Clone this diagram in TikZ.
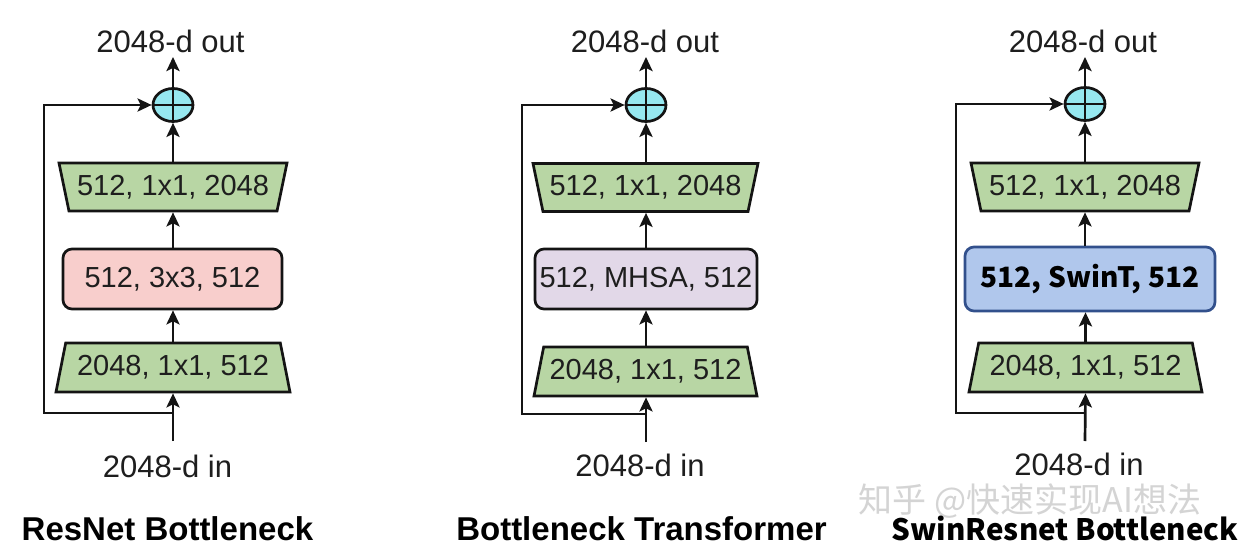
\documentclass[tikz,border=0pt]{standalone}
\usepackage{fontspec}
\setmainfont{Liberation Sans}
\newfontfamily\cjkfont{Noto Sans CJK SC}
\usetikzlibrary{shapes.geometric,arrows.meta}
\definecolor{linec}{RGB}{20,20,20}
\definecolor{txtc}{RGB}{30,30,30}
\definecolor{trapgreen}{RGB}{184,214,164}
\definecolor{pinkfill}{RGB}{248,206,204}
\definecolor{lavfill}{RGB}{226,216,232}
\definecolor{bluefill}{RGB}{176,199,236}
\definecolor{blueline}{RGB}{50,80,140}
\definecolor{cyanfill}{RGB}{150,232,240}
\definecolor{wmark}{RGB}{212,212,212}
\tikzset{
  ln/.style={line width=2.7pt, draw=linec},
  arr/.style={ln, -{Stealth[length=14pt,width=13pt,inset=3pt]}},
  blocktxt/.style={font=\fontsize{29pt}{34pt}\selectfont, text=txtc},
  trapwide/.style={trapezium, trapezium left angle=68, trapezium right angle=68,
    trapezium stretches body, draw=linec, line width=2.7pt, fill=trapgreen,
    inner sep=0pt, minimum height=49pt, blocktxt},
  trapnarrow/.style={trapezium, trapezium left angle=112.6, trapezium right angle=112.6,
    trapezium stretches body, draw=linec, line width=2.7pt, fill=trapgreen,
    inner sep=0pt, minimum height=48pt, blocktxt},
  roundbox/.style={rectangle, rounded corners=9pt, draw=linec, line width=2.7pt,
    inner sep=0pt, minimum height=60pt, blocktxt},
  addnode/.style={ellipse, draw=linec, line width=2.7pt, fill=cyanfill,
    minimum width=40pt, minimum height=33pt, inner sep=0pt,
    path picture={\draw[line width=2.5pt, draw=linec]
      (path picture bounding box.north) -- (path picture bounding box.south)
      (path picture bounding box.west) -- (path picture bounding box.east);}},
  iolabel/.style={font=\fontsize{31pt}{36pt}\selectfont, text=txtc, anchor=base, inner sep=0pt},
  titlelabel/.style={font=\fontsize{33pt}{38pt}\selectfont\bfseries, text=black, anchor=base, inner sep=0pt},
}
\begin{document}
\begin{tikzpicture}[x=1pt,y=-1pt]
\useasboundingbox (0,0) rectangle (1248,551);
\fill[white] (0,0) rectangle (1248,551);

% ---------------- Column 1: ResNet Bottleneck ----------------
\node[iolabel] (out1) at (170.5,53) {2048-d out};
\node[addnode] (add1) at (173,105) {};
\node[trapnarrow, minimum width=228pt] (ta1) at (173,187) {\makebox[0pt]{512, 1x1, 2048}};
\node[roundbox, fill=pinkfill, minimum width=219pt] (mid1) at (172.5,279) {512, 3x3, 512};
\node[trapwide, minimum width=234pt] (tb1) at (173,367.5) {\makebox[0pt]{2048, 1x1, 512}};
\coordinate (top1) at (173,57);
\coordinate (src1) at (173,441);
\coordinate (sp1) at (173,413);
\coordinate (sk1) at (44,413);
\node[iolabel] (in1) at (167.5,477) {2048-d in};
\node[titlelabel] (title1) at (167.5,540) {ResNet Bottleneck};

\draw[arr] (add1.north) -- (top1);
\draw[arr] (ta1.north) -- (add1.south);
\draw[arr] (mid1.north -| ta1.south) -- (ta1.south);
\draw[arr] (tb1.north) -- (mid1.south -| tb1.north);
\draw[arr] (src1) -- (tb1.south);
\draw[arr] (sp1) -- (sk1) |- (add1.west);

% ---------------- Column 2: Bottleneck Transformer ----------------
\node[iolabel] (out2) at (645,53) {2048-d out};
\node[addnode] (add2) at (646,105) {};
\node[trapnarrow, minimum width=225pt] (ta2) at (645.5,187.5) {\makebox[0pt]{512, 1x1, 2048}};
\node[roundbox, fill=lavfill, minimum width=222pt] (mid2) at (646,279) {512, MHSA, 512};
\node[trapwide, minimum width=223pt] (tb2) at (645.5,371.5) {\makebox[0pt]{2048, 1x1, 512}};
\coordinate (top2) at (646,57);
\coordinate (src2) at (646,442);
\coordinate (sp2) at (646,414);
\coordinate (sk2) at (522,414);
\node[iolabel] (in2) at (640,476) {2048-d in};
\node[titlelabel] (title2) at (641.5,540) {Bottleneck Transformer};

\draw[arr] (add2.north) -- (top2);
\draw[arr] (ta2.north -| add2.south) -- (add2.south);
\draw[arr] (mid2.north) -- (ta2.south -| mid2.north);
\draw[arr] (tb2.north -| mid2.south) -- (mid2.south);
\draw[arr] (src2) -- (src2 |- tb2.south);
\draw[arr] (sp2) -- (sk2) |- (add2.west);

% ---------------- Column 3: SwinResnet Bottleneck ----------------
\node[iolabel] (out3) at (1083,53) {2048-d out};
\node[addnode] (add3) at (1085,104) {};
\node[trapnarrow, minimum width=228pt] (ta3) at (1085,187) {\makebox[0pt]{512, 1x1, 2048}};
\node[roundbox, fill=bluefill, draw=blueline, minimum width=250pt, minimum height=64pt,
      font=\fontsize{28pt}{34pt}\selectfont\cjkfont\bfseries, text=black] (mid3) at (1090,279) {512, SwinT, 512};
\node[trapwide, minimum width=233pt] (tb3) at (1085.5,367.5) {\makebox[0pt]{2048, 1x1, 512}};
\coordinate (top3) at (1085,57);
\coordinate (src3) at (1085,441);
\coordinate (sp3) at (1085,413);
\coordinate (sk3) at (956,413);
\node[iolabel] (in3) at (1079,475) {2048-d in};
\node[font=\fontsize{34pt}{38pt}\selectfont\cjkfont, text=wmark, anchor=base, inner sep=0pt] (wm) at (1030,512) {知乎 @快速实现AI想法};
\node[font=\fontsize{29.5pt}{34pt}\selectfont\cjkfont\bfseries, text=black, anchor=base, inner sep=0pt] (title3) at (1065,540) {SwinResnet Bottleneck};

\draw[arr] (add3.north) -- (top3);
\draw[arr] (ta3.north) -- (add3.south);
\draw[arr] (mid3.north -| ta3.south) -- (ta3.south);
\draw[arr] (tb3.north) -- (mid3.south -| tb3.north);
\draw[arr] (src3) -- (tb3.south);
\draw[arr] (sp3) -- (sk3) |- (add3.west);
\end{tikzpicture}
\end{document}
